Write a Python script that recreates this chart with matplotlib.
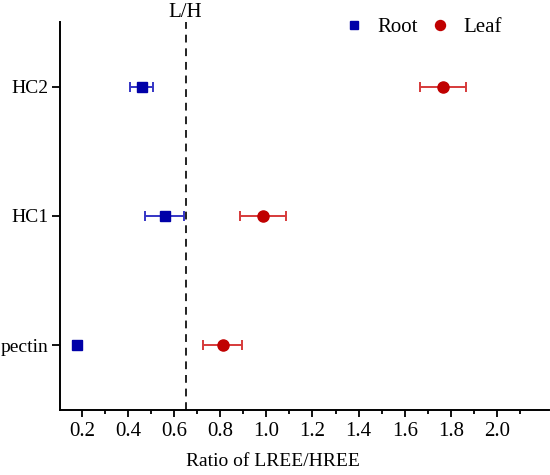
import matplotlib
matplotlib.use('agg')
import matplotlib.pyplot as plt
import numpy as np

plt.rcParams['font.family'] = ['Liberation Serif', 'DejaVu Serif']

categories = ['pectin', 'HC1', 'HC2']
root_mean = [0.18, 0.56, 0.46]
root_err = [0.02, 0.085, 0.05]
leaf_mean = [0.81, 0.985, 1.765]
leaf_err = [0.085, 0.10, 0.10]
lh_ratio = 0.65

y = np.arange(len(categories))

fig = plt.figure(figsize=(5.5, 4.75), dpi=100)
ax = fig.add_axes([0.109, 0.137, 0.889, 0.817])

ax.axvline(lh_ratio, color='#222222', linestyle=(0, (4, 3)), linewidth=1.4, zorder=1)
ax.text(lh_ratio, 2.5, 'L/H', ha='center', va='bottom', fontsize=15)

ax.errorbar(root_mean, y, xerr=root_err, fmt='none', ecolor='#3535C5',
            elinewidth=1.4, capsize=3.5, capthick=1.4, zorder=2)
l_root, = ax.plot(root_mean, y, 's', color='#0000A8', markersize=6.5, linestyle='none',
                  zorder=3, label='Root')
ax.errorbar(leaf_mean, y, xerr=leaf_err, fmt='none', ecolor='#D63A3A',
            elinewidth=1.4, capsize=3.5, capthick=1.4, zorder=2)
l_leaf, = ax.plot(leaf_mean, y, 'o', color='#C00000', markersize=8, linestyle='none',
                  zorder=3, label='Leaf')

ax.set_xlim(0.105, 2.225)
ax.set_ylim(-0.5, 2.5)
ax.set_xticks(np.arange(0.2, 2.01, 0.2))
ax.set_xticklabels(['%.1f' % v for v in np.arange(0.2, 2.01, 0.2)])
ax.set_xticks(np.arange(0.3, 2.2, 0.2), minor=True)
ax.set_yticks(y)
ax.set_yticklabels(categories)
ax.tick_params(axis='x', labelsize=15, width=1.3, length=5, direction='out')
ax.tick_params(axis='y', labelsize=14, width=1.3, length=6, direction='out', pad=2)
ax.tick_params(axis='x', which='minor', width=1.3, length=3)
ax.set_xlabel('Ratio of LREE/HREE', fontsize=14)
ax.xaxis.set_label_coords(0.436, -0.11)

for s in ['top', 'right']:
    ax.spines[s].set_visible(False)
for s in ['left', 'bottom']:
    ax.spines[s].set_linewidth(1.4)

ax.legend(handles=[l_root, l_leaf], loc='upper right', ncol=2, frameon=False,
          fontsize=15, handletextpad=0.6, columnspacing=0.6, markerscale=0.9,
          bbox_to_anchor=(0.942, 1.06), handlelength=1.0)

fig.savefig('out.png', dpi=100)
